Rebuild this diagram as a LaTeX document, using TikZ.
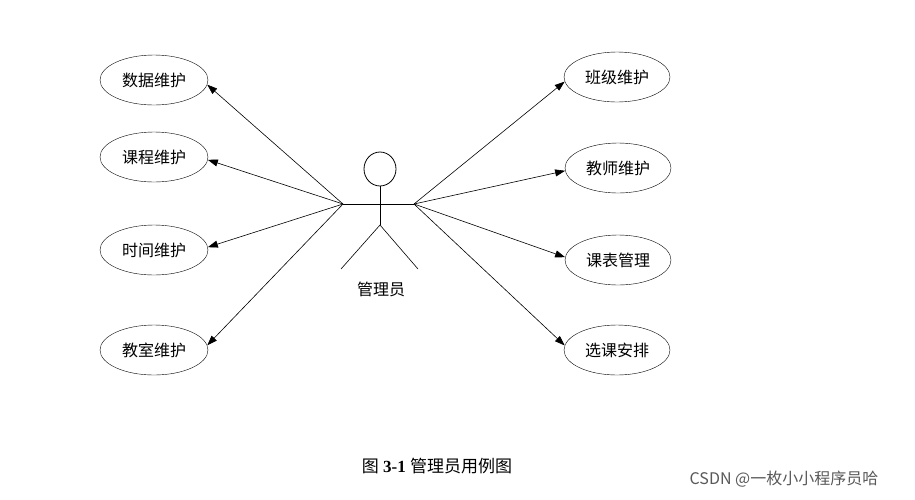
\documentclass[tikz,border=0pt]{standalone}
\usepackage{fontspec}
\setmainfont{Liberation Serif}
\newfontfamily\cjk{Noto Sans CJK SC}
\usetikzlibrary{arrows.meta,shapes.geometric}
\begin{document}
\begin{tikzpicture}[x=1pt,y=-1pt,
  uc/.style={draw,ellipse,minimum width=108pt,minimum height=50pt,inner sep=0pt,font=\fontsize{16}{16}\selectfont\cjk},
  conn/.style={-{Triangle[length=10pt,width=7pt]},line width=0.6pt}]
\useasboundingbox (0,0) rectangle (915,499);
\fill[white] (0,0) rectangle (915,499);
\draw[line width=0.8pt] (380,169) ellipse (16 and 17);
\draw[line width=1pt] (380,186) -- (380,225);
\coordinate (lh) at (343,204);
\coordinate (rh) at (414,204);
\draw[line width=0.8pt] (lh) -- (rh);
\draw[line width=0.6pt] (341,269) -- (380,225) -- (418,269);
\node[font=\fontsize{16}{16}\selectfont\cjk] (actor) at (381,289) {管理员};
\node[uc] (a) at (154,80) {数据维护};
\node[uc] (b) at (154,157) {课程维护};
\node[uc] (c) at (154,250) {时间维护};
\node[uc] (d) at (154,350) {教室维护};
\node[uc,minimum width=106pt] (e) at (617,77) {班级维护};
\node[uc,minimum width=106pt] (f) at (618,168) {教师维护};
\node[uc,minimum width=106pt] (g) at (618,260) {课表管理};
\node[uc,minimum width=106pt] (h) at (617,350) {选课安排};
\draw[conn] (lh) -- (a.-5);
\draw[conn] (lh) -- (b.-3);
\draw[conn] (lh) -- (c.3);
\draw[conn] (lh) -- (d.5);
\draw[conn] (rh) -- (e.185);
\draw[conn] (rh) -- (f.183);
\draw[conn] (rh) -- (g.177);
\draw[conn] (rh) -- (h.175);
\node[font=\fontsize{17}{17}\selectfont] (cap) at (437,466) {{\cjk 图} \textbf{3-1} {\cjk 管理员用例图}};
\node[font=\fontsize{16}{16}\selectfont\cjk,text=gray!70!black] (wm) at (784,479) {CSDN @一枚小小程序员哈};
\end{tikzpicture}
\end{document}
